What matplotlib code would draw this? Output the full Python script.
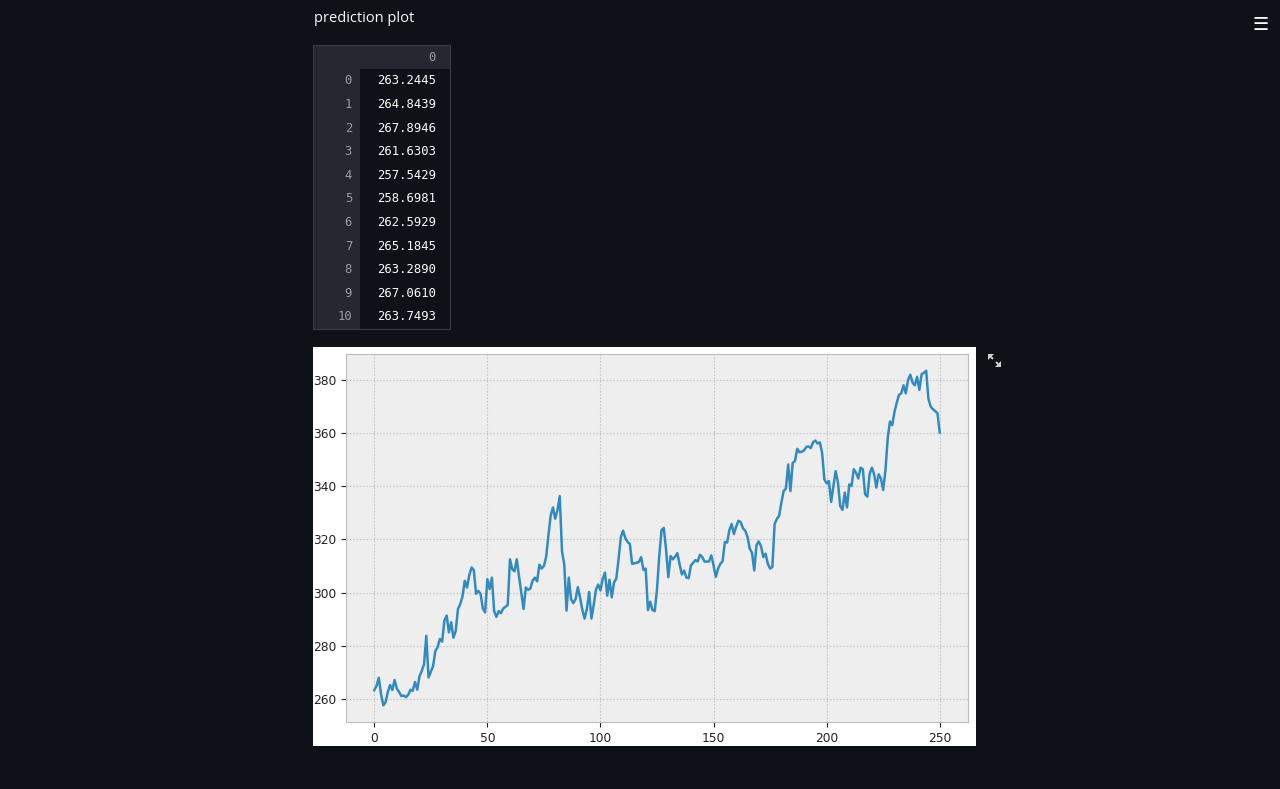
import matplotlib
matplotlib.use("Agg")
import matplotlib.pyplot as plt
from matplotlib.patches import Rectangle, Polygon

# ---- data ----
title_text = "prediction plot"
column_name = "0"
values = [
    263.2445, 264.8439, 267.8946, 261.6303, 257.5429, 258.6981, 262.5929, 265.1845, 263.2890, 267.0610, 263.7493,
    262.5, 261.0, 261.2, 260.6, 261.5, 263.4, 263.0, 266.3, 263.4,
    268.5, 270.5, 273.0, 283.7, 268.0, 270.2, 272.3, 278.0, 279.4, 282.5,
    281.5, 289.4, 291.3, 285.0, 288.8, 283.0, 285.5, 293.8, 295.6, 298.5,
    304.4, 301.9, 306.5, 309.4, 308.5, 299.5, 300.6, 299.5, 294.0, 292.5,
    305.0, 301.3, 305.6, 293.0, 290.8, 293.0, 292.2, 294.0, 294.6, 295.3,
    312.5, 308.8, 308.0, 312.5, 306.0, 300.0, 293.8, 301.9, 301.0, 301.5,
    304.5, 305.6, 304.2, 310.5, 309.0, 310.0, 313.5, 321.5, 329.0, 332.0,
    327.8, 331.0, 336.3, 315.5, 310.6, 293.2, 305.6, 297.5, 296.0, 297.5,
    302.0, 298.0, 293.5, 290.2, 293.8, 300.2, 290.2, 295.2, 301.0, 303.0,
    300.8, 305.2, 307.5, 298.8, 304.8, 298.2, 303.8, 305.2, 312.5, 320.8,
    323.3, 320.5, 319.0, 318.3, 310.8, 311.0, 311.2, 311.5, 313.3, 308.5,
    309.0, 293.4, 296.5, 293.4, 293.0, 301.2, 313.8, 323.5, 324.3, 316.2,
    305.8, 313.7, 312.5, 313.5, 314.8, 310.6, 306.8, 308.2, 305.6, 305.4,
    310.2, 311.2, 312.2, 311.7, 314.2, 313.3, 311.7, 311.6, 311.7, 314.0,
    310.2, 305.9, 309.0, 310.8, 311.8, 319.0, 318.8, 323.5, 325.8, 322.0,
    324.8, 327.0, 326.5, 324.2, 323.3, 321.0, 316.5, 315.0, 308.3, 317.9,
    319.2, 317.4, 313.3, 314.6, 310.8, 309.0, 309.6, 325.8, 327.7, 328.9,
    333.9, 338.2, 339.1, 348.2, 338.2, 348.8, 349.5, 354.1, 352.8, 353.0,
    353.5, 354.8, 355.0, 354.4, 356.6, 357.2, 356.1, 356.5, 352.6, 342.6,
    341.1, 342.0, 334.1, 340.1, 345.7, 341.4, 332.6, 331.1, 337.6, 332.0,
    340.7, 340.1, 346.4, 345.1, 342.9, 347.0, 346.4, 337.0, 336.1, 344.5,
    347.0, 344.5, 339.5, 344.5, 342.9, 338.6, 346.0, 358.0, 364.4, 363.0,
    368.0, 371.5, 374.4, 375.0, 378.0, 375.0, 380.0, 382.0, 379.0, 378.0,
    381.2, 376.3, 382.2, 382.7, 383.5, 373.0, 370.0, 369.0, 368.3, 367.5,
    360.2,
]
index = list(range(len(values)))
table_rows = 11

W, H = 1280, 789
BG = "#0e1117"
fig = plt.figure(figsize=(W / 100, H / 100), dpi=100, facecolor=BG)

# overlay in pixel coordinates
ov = fig.add_axes([0, 0, 1, 1], zorder=0)
ov.set_xlim(0, W)
ov.set_ylim(H, 0)
ov.axis("off")

# title
ov.text(314, 18, title_text, color="#fafafa", fontsize=10.5, family=["Open Sans", "DejaVu Sans"],
        ha="left", va="center")
# hamburger menu
ov.text(1261, 25, "\u2630", color="#fafafa", fontsize=13, family=["DejaVu Sans"], ha="center", va="center")

# ---- table ----
tx0, tx1, idx_w = 313, 450, 47
top, hdr_h, row_h = 45, 24, 23.6
idx_bg = "#262730"
ov.add_patch(Rectangle((tx0, top), tx1 - tx0, hdr_h, facecolor=idx_bg, edgecolor="none"))
ov.add_patch(Rectangle((tx0, top + hdr_h), idx_w, row_h * table_rows, facecolor=idx_bg, edgecolor="none"))
ov.add_patch(Rectangle((tx0, top), tx1 - tx0, hdr_h + row_h * table_rows, facecolor="none",
                       edgecolor="#3a3c46", linewidth=0.8))
mono = ["DejaVu Sans Mono"]
ov.text(436, top + hdr_h / 2, column_name, color="#9a9ba3", fontsize=8.8, family=mono, ha="right", va="center")
for r in range(table_rows):
    cy = top + hdr_h + row_h * (r + 0.5)
    ov.text(352, cy, str(index[r]), color="#9a9ba3", fontsize=8.8, family=mono, ha="right", va="center")
    ov.text(436, cy, f"{values[r]:.4f}", color="#fafafa", fontsize=8.8, family=mono, ha="right", va="center")

# ---- plot image background ----
ov.add_patch(Rectangle((313, 347), 976 - 313, 746 - 347, facecolor="white", edgecolor="none"))

# expand icon
icon_c = "#d0d0d0"
ov.add_patch(Polygon([(988, 354), (994, 354), (988, 360)], closed=True, facecolor=icon_c, edgecolor="none"))
ov.add_patch(Polygon([(1001, 367), (995, 367), (1001, 361)], closed=True, facecolor=icon_c, edgecolor="none"))
ov.plot([990, 993], [356, 359], color=icon_c, linewidth=1.4, solid_capstyle="butt")
ov.plot([996, 999], [362, 365], color=icon_c, linewidth=1.4, solid_capstyle="butt")

# ---- chart axes (bmh look) ----
ax_l, ax_r, ax_t, ax_b = 346, 968, 354, 722
ax = fig.add_axes([ax_l / W, 1 - ax_b / H, (ax_r - ax_l) / W, (ax_b - ax_t) / H], zorder=2)
ax.set_facecolor("#eeeeee")
for s in ax.spines.values():
    s.set_color("#bcbcbc")
    s.set_linewidth(0.8)
ax.grid(True, linestyle=(0, (1.5, 1.5)), color="#c4c4c4", linewidth=0.8)
ax.set_axisbelow(True)
ax.plot(index, values, color="#348ABD", linewidth=1.8)
ax.tick_params(labelsize=8.8, colors="#222222", length=3.5, width=0.8)
ax.set_xticks([0, 50, 100, 150, 200, 250])
ax.set_yticks([260, 280, 300, 320, 340, 360, 380])

fig.savefig("out.png", dpi=100, facecolor=BG)
